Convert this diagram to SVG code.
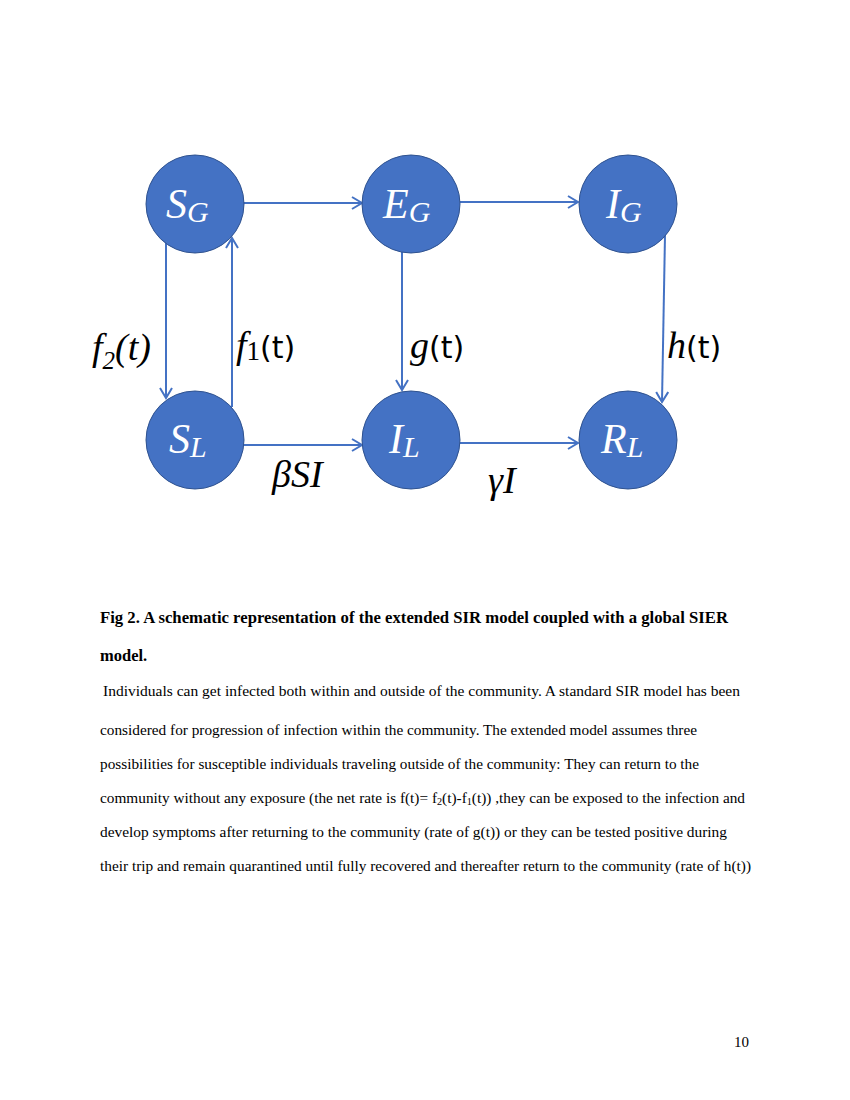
<svg xmlns="http://www.w3.org/2000/svg" width="850" height="1100" viewBox="0 0 850 1100">
<style>
.node{fill:#4472C4;stroke:#2F528F;stroke-width:1}
.nl{font-family:"Liberation Serif","DejaVu Serif",serif;font-style:italic;font-size:42px;fill:#fff}
.sub{font-size:30px}
.edge{stroke:#4472C4;stroke-width:2;fill:none;marker-end:url(#ah)}
.el{font-family:"Liberation Serif","DejaVu Serif",serif;font-style:italic;font-size:38px;fill:#000}
.up{font-family:"DejaVu Sans","Liberation Sans",sans-serif;font-style:normal;font-size:30px}
.cap{font-family:"Liberation Serif","Times New Roman",serif;font-size:15px;fill:#000}
.capb{font-family:"Liberation Serif","Times New Roman",serif;font-size:16.5px;font-weight:bold;fill:#000}
</style>
<defs>
<marker id="ah" markerUnits="userSpaceOnUse" markerWidth="14" markerHeight="14" refX="11" refY="7" orient="auto">
<path d="M1,1 L11,7 L1,13" fill="none" stroke="#4472C4" stroke-width="2"/>
</marker>
</defs>
<rect width="850" height="1100" fill="#fff"/>
<g id="connectors">
<line class="edge" x1="243" y1="203" x2="362" y2="203"/>
<line class="edge" x1="460" y1="202" x2="578" y2="202"/>
<line class="edge" x1="166" y1="243" x2="166" y2="398"/>
<line class="edge" x1="232" y1="407" x2="232" y2="238"/>
<line class="edge" x1="402" y1="252" x2="402" y2="390"/>
<line class="edge" x1="665" y1="235" x2="662" y2="402"/>
<line class="edge" x1="243" y1="445" x2="362" y2="445"/>
<line class="edge" x1="460" y1="443" x2="578" y2="443"/>
</g>
<g id="SG"><circle class="node" cx="195" cy="204" r="49"/><text class="nl" x="166" y="218">S<tspan class="sub" dy="4">G</tspan></text></g>
<g id="EG"><circle class="node" cx="411" cy="204" r="49"/><text class="nl" x="383" y="218">E<tspan class="sub" dy="4">G</tspan></text></g>
<g id="IG"><circle class="node" cx="628" cy="204" r="49"/><text class="nl" x="606" y="218">I<tspan class="sub" dy="4">G</tspan></text></g>
<g id="SL"><circle class="node" cx="195" cy="440" r="49"/><text class="nl" x="169" y="453">S<tspan class="sub" dy="4">L</tspan></text></g>
<g id="IL"><circle class="node" cx="411" cy="440" r="49"/><text class="nl" x="389" y="453">I<tspan class="sub" dy="4">L</tspan></text></g>
<g id="RL"><circle class="node" cx="628" cy="440" r="49"/><text class="nl" x="601" y="453">R<tspan class="sub" dy="4">L</tspan></text></g>
<g id="labels">
<text class="el" x="92" y="360">f<tspan font-size="25" dy="9">2</tspan><tspan dy="-9">(t)</tspan></text>
<text class="el" x="236" y="358">f<tspan font-style="normal" font-size="27" dy="2">1</tspan><tspan class="up" dy="-2">(t)</tspan></text>
<text class="el" x="410" y="358">g<tspan class="up">(t)</tspan></text>
<text class="el" x="667" y="358">h<tspan class="up">(t)</tspan></text>
<text class="el" x="272" y="487">βSI</text>
<text class="el" x="488" y="493">γI</text>
</g>
<g id="caption">
<text class="capb" x="100" y="623" textLength="628" lengthAdjust="spacingAndGlyphs">Fig 2. A schematic representation of the extended SIR model coupled with a global SIER</text>
<text class="capb" x="100" y="661">model.</text>
<text class="cap" x="103" y="696" textLength="637" lengthAdjust="spacingAndGlyphs">Individuals can get infected both within and outside of the community. A standard SIR model has been</text>
<text class="cap" x="100" y="735" textLength="597" lengthAdjust="spacingAndGlyphs">considered for progression of infection within the community. The extended model assumes three</text>
<text class="cap" x="100" y="769" textLength="599" lengthAdjust="spacingAndGlyphs">possibilities for susceptible individuals traveling outside of the community: They can return to the</text>
<text class="cap" x="100" y="803" textLength="645" lengthAdjust="spacingAndGlyphs">community without any exposure (the net rate is f(t)= f<tspan font-size="10" dy="2">2</tspan><tspan dy="-2">(t)-f</tspan><tspan font-size="10" dy="2">1</tspan><tspan dy="-2">(t)) ,they can be exposed to the infection and</tspan></text>
<text class="cap" x="100" y="837" textLength="627" lengthAdjust="spacingAndGlyphs">develop symptoms after returning to the community (rate of g(t)) or they can be tested positive during</text>
<text class="cap" x="100" y="871" textLength="651" lengthAdjust="spacingAndGlyphs">their trip and remain quarantined until fully recovered and thereafter return to the community (rate of h(t))</text>
<text class="cap" x="734" y="1047">10</text>
</g>
</svg>
